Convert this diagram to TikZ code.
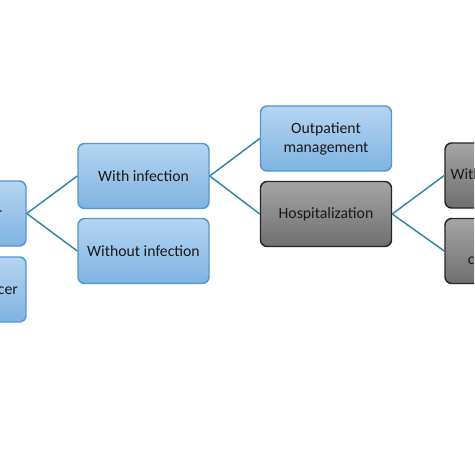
\documentclass[tikz,border=0pt]{standalone}
\usepackage{fontspec}
\setmainfont{Carlito}
\usepackage{xcolor}

\definecolor{bluetop}{HTML}{B5D5F1}
\definecolor{bluebot}{HTML}{7FB3E2}
\definecolor{blueline}{HTML}{5496CF}
\definecolor{graytop}{HTML}{A5A5A5}
\definecolor{graybot}{HTML}{6F6F6F}
\definecolor{grayline}{HTML}{262626}
\definecolor{linkteal}{HTML}{2F88A8}

\begin{document}
\begin{tikzpicture}[x=0.75pt,y=-0.75pt,
  box/.style={rounded corners=5pt,line width=1.1pt,align=center,text=black!90,
    minimum width=98.25pt,minimum height=48.75pt,inner sep=2pt,
    font=\fontsize{11.8}{14.2}\selectfont},
  bluebox/.style={box,draw=blueline,top color=bluetop,bottom color=bluebot},
  graybox/.style={box,draw=grayline,top color=graytop,bottom color=graybot},
  link/.style={draw=linkteal,line width=1.1pt}]
\useasboundingbox (0,0) rectangle (474,474);
\clip (0,0) rectangle (474,474);
\fill[white] (0,0) rectangle (474,474);
% first column
\node[bluebox,minimum width=93.75pt] (cancer) at (-36.5,213.5) {With cancer};
\node[bluebox,minimum width=86.25pt] (nocancer) at (-31.5,289.5) {Without cancer};
% second column
\node[bluebox] (withinf) at (143.5,176) {With infection};
\node[bluebox] (noinf) at (143.5,251) {Without infection};
% third column
\node[bluebox] (outpat) at (326,138.5) {Outpatient\\management};
\node[graybox] (hosp) at (326,214) {Hospitalization};
% fourth column
\node[graybox,minimum width=100.5pt] (compl) at (512,175.5) {With complications};
\node[graybox,minimum width=100.5pt] (nocompl) at (512,251) {Without\\complications};
% links
\draw[link] (cancer.east) -- (withinf.west);
\draw[link] (cancer.east) -- (noinf.west);
\draw[link] (withinf.east) -- (outpat.west);
\draw[link] (withinf.east) -- (hosp.west);
\draw[link] (hosp.east) -- (compl.west);
\draw[link] (hosp.east) -- (nocompl.west);
\end{tikzpicture}
\end{document}
